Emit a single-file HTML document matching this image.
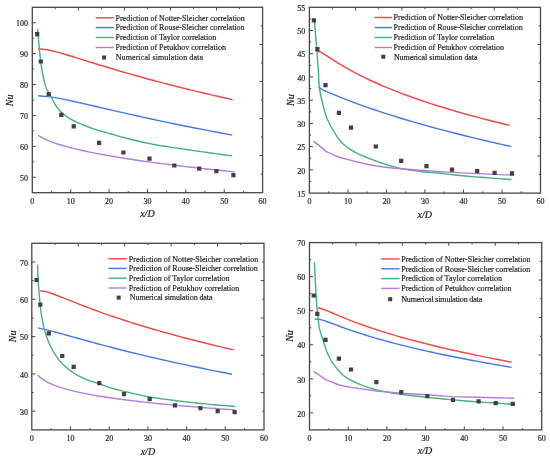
<!DOCTYPE html>
<html><head><meta charset="utf-8"><style>
html,body{margin:0;padding:0;background:#fff;width:550px;height:461px;overflow:hidden;}
svg{display:block;font-family:"Liberation Serif",serif;filter:blur(0.35px);}
</style></head><body>
<svg width="550" height="461" viewBox="0 0 550 461">
<rect x="0" y="0" width="550" height="461" fill="#fff"/>
<g><path d="M51.49,192.7v-1.8M70.68,192.7v-3.6M89.88,192.7v-1.8M109.07,192.7v-3.6M128.26,192.7v-1.8M147.45,192.7v-3.6M166.64,192.7v-1.8M185.83,192.7v-3.6M205.03,192.7v-1.8M224.22,192.7v-3.6M243.41,192.7v-1.8M32.3,177.25h3.6M32.3,161.8h1.8M32.3,146.35h3.6M32.3,130.9h1.8M32.3,115.45h3.6M32.3,100h1.8M32.3,84.55h3.6M32.3,69.1h1.8M32.3,53.65h3.6M32.3,38.2h1.8M32.3,22.75h3.6M55.33,7.3v1.8M78.36,7.3v3.2M101.39,7.3v1.8M124.42,7.3v3.2M147.45,7.3v1.8M170.48,7.3v3.2M193.51,7.3v1.8M216.54,7.3v3.2M239.57,7.3v1.8M262.6,25.84h-1.8M262.6,44.38h-3.2M262.6,62.92h-1.8M262.6,81.46h-3.2M262.6,100h-1.8M262.6,118.54h-3.2M262.6,137.08h-1.8M262.6,155.62h-3.2M262.6,174.16h-1.8" stroke="#474747" stroke-width="1" fill="none"/><rect x="32.3" y="7.3" width="230.3" height="185.4" fill="none" stroke="#474747" stroke-width="1.3"/><g font-family="Liberation Serif, serif" font-size="8" fill="#1e1e1e" stroke="#1e1e1e" stroke-width="0.18"><text x="32.3" y="204.2" text-anchor="middle">0</text><text x="70.68" y="204.2" text-anchor="middle">10</text><text x="109.07" y="204.2" text-anchor="middle">20</text><text x="147.45" y="204.2" text-anchor="middle">30</text><text x="185.83" y="204.2" text-anchor="middle">40</text><text x="224.22" y="204.2" text-anchor="middle">50</text><text x="262.6" y="204.2" text-anchor="middle">60</text><text x="28.1" y="180.95" text-anchor="end">50</text><text x="28.1" y="150.05" text-anchor="end">60</text><text x="28.1" y="119.15" text-anchor="end">70</text><text x="28.1" y="88.25" text-anchor="end">80</text><text x="28.1" y="57.35" text-anchor="end">90</text><text x="28.1" y="26.45" text-anchor="end">100</text></g><text transform="translate(12.7,100.3) rotate(-90)" text-anchor="middle" font-family="Liberation Serif, serif" font-style="italic" font-size="10" fill="#1e1e1e" stroke="#1e1e1e" stroke-width="0.18">Nu</text><text x="147.4" y="217" text-anchor="middle" font-family="Liberation Serif, serif" font-style="italic" font-size="10" fill="#1e1e1e" stroke="#1e1e1e" stroke-width="0.18">x/D</text><path d="M38.3,48.99 L43.28,49.24 L48.26,49.97 L53.24,51.06 L58.22,52.36 L63.2,53.78 L68.18,55.27 L73.16,56.8 L78.14,58.35 L83.12,59.91 L88.09,61.46 L93.07,63.01 L98.05,64.54 L103.03,66.06 L108.01,67.56 L112.99,69.05 L117.97,70.51 L122.95,71.96 L127.93,73.39 L132.91,74.8 L137.89,76.2 L142.87,77.57 L147.85,78.93 L152.83,80.27 L157.81,81.6 L162.79,82.9 L167.77,84.19 L172.75,85.47 L177.73,86.73 L182.71,87.97 L187.68,89.2 L192.66,90.42 L197.64,91.62 L202.62,92.81 L207.6,93.98 L212.58,95.14 L217.56,96.29 L222.54,97.43 L227.52,98.56 L232.5,99.67" stroke="#f04a4a" stroke-width="1.45" fill="none" stroke-linejoin="round" stroke-linecap="butt"/><path d="M38.2,95.78 L43.17,96.25 L48.15,96.67 L53.12,97.33 L58.1,98.15 L63.07,99.1 L68.05,100.13 L73.02,101.22 L77.99,102.34 L82.97,103.48 L87.94,104.63 L92.92,105.79 L97.89,106.95 L102.87,108.11 L107.84,109.27 L112.82,110.42 L117.79,111.56 L122.76,112.69 L127.74,113.82 L132.71,114.93 L137.69,116.03 L142.66,117.13 L147.64,118.21 L152.61,119.28 L157.58,120.34 L162.56,121.39 L167.53,122.43 L172.51,123.46 L177.48,124.48 L182.46,125.49 L187.43,126.49 L192.41,127.48 L197.38,128.46 L202.35,129.43 L207.33,130.39 L212.3,131.34 L217.28,132.29 L222.25,133.22 L227.23,134.15 L232.2,135.07" stroke="#4379e0" stroke-width="1.4" fill="none" stroke-linejoin="round" stroke-linecap="butt"/><path d="M37.7,28.7 L37.82,30.44 L37.94,32.2 L38.06,33.95 L38.18,35.71 L38.3,37.46 L38.42,39.19 L38.56,40.91 L38.7,42.6 L38.85,44.17 L39,45.73 L39.16,47.28 L39.33,48.81 L39.5,50.33 L39.67,51.84 L39.84,53.33 L40,54.8 L40.14,56.13 L40.28,57.44 L40.42,58.73 L40.55,60 L40.69,61.28 L40.84,62.56 L41.01,63.87 L41.2,65.2 L41.43,66.69 L41.67,68.22 L41.93,69.77 L42.2,71.33 L42.48,72.88 L42.78,74.42 L43.09,75.93 L43.4,77.4 L43.69,78.71 L43.98,80.01 L44.27,81.31 L44.57,82.58 L44.89,83.82 L45.23,85.03 L45.6,86.19 L46,87.3 L46.37,88.18 L46.77,89.03 L47.19,89.86 L47.62,90.65 L48.06,91.42 L48.49,92.17 L48.91,92.89 L49.3,93.6 L49.59,94.14 L49.88,94.66 L50.16,95.16 L50.43,95.65 L50.7,96.13 L50.96,96.61 L51.23,97.1 L51.5,97.6 L51.78,98.12 L52.05,98.64 L52.32,99.17 L52.59,99.7 L52.87,100.23 L53.14,100.76 L53.42,101.28 L53.7,101.8 L53.97,102.3 L54.24,102.8 L54.51,103.3 L54.78,103.79 L55.05,104.28 L55.35,104.78 L55.66,105.28 L56,105.8 L56.44,106.44 L56.91,107.1 L57.4,107.77 L57.91,108.44 L58.45,109.12 L59.01,109.79 L59.59,110.45 L60.2,111.1 L60.91,111.82 L61.66,112.53 L62.43,113.24 L63.24,113.94 L64.07,114.63 L64.93,115.3 L65.8,115.96 L66.7,116.6 L67.7,117.27 L68.75,117.93 L69.83,118.57 L70.93,119.19 L72.05,119.79 L73.17,120.38 L74.29,120.95 L75.4,121.5 L76.46,122.01 L77.51,122.5 L78.56,122.96 L79.62,123.42 L80.68,123.86 L81.76,124.3 L82.87,124.75 L84,125.2 L85.3,125.72 L86.64,126.25 L88,126.77 L89.39,127.3 L90.79,127.82 L92.19,128.33 L93.6,128.82 L95,129.3 L96.39,129.76 L97.75,130.19 L99.11,130.6 L100.48,131 L101.87,131.41 L103.32,131.82 L104.82,132.25 L106.4,132.7 L108.61,133.33 L110.94,134 L113.37,134.69 L115.89,135.39 L118.46,136.1 L121.09,136.82 L123.74,137.52 L126.4,138.2 L129.43,138.96 L132.54,139.73 L135.7,140.5 L138.91,141.27 L142.16,142.01 L145.43,142.74 L148.71,143.44 L152,144.1 L155.48,144.75 L159.08,145.38 L162.74,145.98 L166.4,146.56 L170.01,147.11 L173.51,147.63 L176.86,148.13 L180,148.6 L182.2,148.93 L184.28,149.24 L186.26,149.52 L188.19,149.8 L190.09,150.07 L192.01,150.34 L193.96,150.61 L196,150.9 L198.3,151.23 L200.66,151.57 L203.05,151.91 L205.46,152.26 L207.87,152.6 L210.28,152.94 L212.66,153.27 L215,153.6 L217.19,153.9 L219.36,154.19 L221.51,154.48 L223.65,154.77 L225.79,155.05 L227.92,155.33 L230.06,155.61 L232.2,155.9" stroke="#45b07c" stroke-width="1.4" fill="none" stroke-linejoin="round" stroke-linecap="butt"/><path d="M38.2,135.41 L43.24,138.46 L48.27,140.71 L53.31,142.6 L58.34,144.27 L63.38,145.77 L68.42,147.14 L73.45,148.42 L78.49,149.62 L83.52,150.76 L88.56,151.83 L93.59,152.85 L98.63,153.83 L103.67,154.76 L108.7,155.67 L113.74,156.53 L118.77,157.37 L123.81,158.19 L128.85,158.97 L133.88,159.74 L138.92,160.48 L143.95,161.2 L148.99,161.91 L154.03,162.59 L159.06,163.26 L164.1,163.92 L169.13,164.56 L174.17,165.18 L179.21,165.8 L184.24,166.4 L189.28,166.99 L194.31,167.56 L199.35,168.13 L204.38,168.69 L209.42,169.24 L214.46,169.77 L219.49,170.3 L224.53,170.82 L229.56,171.34 L234.6,171.84" stroke="#b37ce0" stroke-width="1.4" fill="none" stroke-linejoin="round" stroke-linecap="butt"/><path d="M35.1,32.1h4.2v4.2h-4.2zM38.7,59.4h4.2v4.2h-4.2zM46.6,91.9h4.2v4.2h-4.2zM59.2,112.7h4.2v4.2h-4.2zM71.6,124.3h4.2v4.2h-4.2zM97,140.8h4.2v4.2h-4.2zM121.3,150.4h4.2v4.2h-4.2zM147.4,156.6h4.2v4.2h-4.2zM172.2,163.4h4.2v4.2h-4.2zM197.1,166.5h4.2v4.2h-4.2zM214.3,169.1h4.2v4.2h-4.2zM231.3,173.1h4.2v4.2h-4.2z" fill="#404040"/><path d="M95.7,17.8H113.9" stroke="#f04a4a" stroke-width="1.45"/><path d="M95.7,27.6H113.9" stroke="#4379e0" stroke-width="1.4"/><path d="M95.7,37.5H113.9" stroke="#45b07c" stroke-width="1.4"/><path d="M95.7,47.5H113.9" stroke="#b37ce0" stroke-width="1.4"/><rect x="102.1" y="55.5" width="4" height="4" fill="#404040"/><g font-family="Liberation Serif, serif" font-size="8" fill="#1e1e1e" stroke="#1e1e1e" stroke-width="0.18"><text x="115.5" y="20.6">Prediction of Notter-Sleicher correlation</text><text x="115.5" y="30.4">Prediction of Rouse-Sleicher correlation</text><text x="115.5" y="40.3">Prediction of Taylor correlation</text><text x="115.5" y="50.3">Prediction of Petukhov correlation</text><text x="115.7" y="60.3" letter-spacing="0.1">Numerical simulation data</text></g></g>
<g><path d="M328.66,193.1v-1.8M347.92,193.1v-3.6M367.17,193.1v-1.8M386.43,193.1v-3.6M405.69,193.1v-1.8M424.95,193.1v-3.6M444.21,193.1v-1.8M463.47,193.1v-3.6M482.73,193.1v-1.8M501.98,193.1v-3.6M521.24,193.1v-1.8M309.4,181.49h1.8M309.4,169.88h3.6M309.4,158.26h1.8M309.4,146.65h3.6M309.4,135.04h1.8M309.4,123.42h3.6M309.4,111.81h1.8M309.4,100.2h3.6M309.4,88.59h1.8M309.4,76.98h3.6M309.4,65.36h1.8M309.4,53.75h3.6M309.4,42.14h1.8M309.4,30.53h3.6M309.4,18.91h1.8M332.51,7.3v1.8M355.62,7.3v3.2M378.73,7.3v1.8M401.84,7.3v3.2M424.95,7.3v1.8M448.06,7.3v3.2M471.17,7.3v1.8M494.28,7.3v3.2M517.39,7.3v1.8M540.5,25.88h-1.8M540.5,44.46h-3.2M540.5,63.04h-1.8M540.5,81.62h-3.2M540.5,100.2h-1.8M540.5,118.78h-3.2M540.5,137.36h-1.8M540.5,155.94h-3.2M540.5,174.52h-1.8" stroke="#474747" stroke-width="1" fill="none"/><rect x="309.4" y="7.3" width="231.1" height="185.8" fill="none" stroke="#474747" stroke-width="1.3"/><g font-family="Liberation Serif, serif" font-size="8" fill="#1e1e1e" stroke="#1e1e1e" stroke-width="0.18"><text x="309.4" y="204.2" text-anchor="middle">0</text><text x="347.92" y="204.2" text-anchor="middle">10</text><text x="386.43" y="204.2" text-anchor="middle">20</text><text x="424.95" y="204.2" text-anchor="middle">30</text><text x="463.47" y="204.2" text-anchor="middle">40</text><text x="501.98" y="204.2" text-anchor="middle">50</text><text x="540.5" y="204.2" text-anchor="middle">60</text><text x="305.2" y="196.8" text-anchor="end">15</text><text x="305.2" y="173.57" text-anchor="end">20</text><text x="305.2" y="150.35" text-anchor="end">25</text><text x="305.2" y="127.12" text-anchor="end">30</text><text x="305.2" y="103.9" text-anchor="end">35</text><text x="305.2" y="80.68" text-anchor="end">40</text><text x="305.2" y="57.45" text-anchor="end">45</text><text x="305.2" y="34.23" text-anchor="end">50</text><text x="305.2" y="11" text-anchor="end">55</text></g><text transform="translate(293.6,100.2) rotate(-90)" text-anchor="middle" font-family="Liberation Serif, serif" font-style="italic" font-size="10" fill="#1e1e1e" stroke="#1e1e1e" stroke-width="0.18">Nu</text><text x="424.7" y="217.5" text-anchor="middle" font-family="Liberation Serif, serif" font-style="italic" font-size="10" fill="#1e1e1e" stroke="#1e1e1e" stroke-width="0.18">x/D</text><path d="M315.4,50.48 L320.38,51.93 L325.36,54.89 L330.35,58.11 L335.33,61.29 L340.31,64.37 L345.29,67.31 L350.27,70.13 L355.26,72.82 L360.24,75.4 L365.22,77.87 L370.2,80.24 L375.18,82.53 L380.17,84.73 L385.15,86.85 L390.13,88.91 L395.11,90.9 L400.09,92.83 L405.08,94.7 L410.06,96.52 L415.04,98.29 L420.02,100.01 L425.01,101.7 L429.99,103.34 L434.97,104.94 L439.95,106.5 L444.93,108.03 L449.92,109.53 L454.9,111 L459.88,112.43 L464.86,113.84 L469.84,115.22 L474.83,116.57 L479.81,117.9 L484.79,119.21 L489.77,120.49 L494.75,121.75 L499.74,122.99 L504.72,124.21 L509.7,125.42" stroke="#f04a4a" stroke-width="1.45" fill="none" stroke-linejoin="round" stroke-linecap="butt"/><path d="M318.5,87.41 L323.45,90.06 L328.39,92.32 L333.34,94.43 L338.28,96.47 L343.23,98.44 L348.18,100.35 L353.12,102.22 L358.07,104.04 L363.02,105.82 L367.96,107.55 L372.91,109.25 L377.85,110.91 L382.8,112.54 L387.75,114.13 L392.69,115.7 L397.64,117.23 L402.58,118.73 L407.53,120.21 L412.48,121.66 L417.42,123.09 L422.37,124.49 L427.32,125.87 L432.26,127.23 L437.21,128.57 L442.15,129.89 L447.1,131.19 L452.05,132.46 L456.99,133.73 L461.94,134.97 L466.88,136.2 L471.83,137.41 L476.78,138.61 L481.72,139.79 L486.67,140.95 L491.62,142.1 L496.56,143.24 L501.51,144.37 L506.45,145.48 L511.4,146.58" stroke="#4379e0" stroke-width="1.4" fill="none" stroke-linejoin="round" stroke-linecap="butt"/><path d="M314.4,20.2 L314.58,22.4 L314.76,24.64 L314.94,26.89 L315.12,29.13 L315.3,31.35 L315.47,33.51 L315.64,35.6 L315.8,37.6 L315.92,39.11 L316.04,40.53 L316.14,41.9 L316.25,43.23 L316.36,44.57 L316.47,45.94 L316.58,47.37 L316.7,48.9 L316.86,50.97 L317.04,53.15 L317.21,55.41 L317.4,57.74 L317.58,60.1 L317.76,62.48 L317.93,64.85 L318.1,67.2 L318.25,69.66 L318.39,72.21 L318.52,74.81 L318.65,77.4 L318.78,79.93 L318.93,82.36 L319.1,84.63 L319.3,86.7 L319.45,87.96 L319.6,89.15 L319.77,90.27 L319.94,91.34 L320.12,92.37 L320.3,93.38 L320.5,94.39 L320.7,95.4 L320.89,96.3 L321.09,97.18 L321.3,98.03 L321.52,98.88 L321.74,99.72 L321.96,100.57 L322.18,101.43 L322.4,102.3 L322.63,103.25 L322.86,104.23 L323.1,105.22 L323.34,106.21 L323.57,107.2 L323.81,108.16 L324.06,109.1 L324.3,110 L324.51,110.72 L324.71,111.42 L324.91,112.1 L325.12,112.77 L325.33,113.42 L325.55,114.08 L325.77,114.73 L326,115.4 L326.24,116.08 L326.49,116.76 L326.74,117.43 L326.99,118.11 L327.26,118.78 L327.53,119.46 L327.81,120.13 L328.1,120.8 L328.41,121.49 L328.72,122.18 L329.05,122.87 L329.38,123.56 L329.72,124.25 L330.07,124.94 L330.43,125.62 L330.8,126.3 L331.19,126.98 L331.59,127.66 L332,128.34 L332.41,129.01 L332.84,129.68 L333.26,130.35 L333.68,131.03 L334.1,131.7 L334.51,132.38 L334.91,133.06 L335.3,133.73 L335.7,134.41 L336.1,135.09 L336.52,135.77 L336.95,136.44 L337.4,137.1 L337.89,137.79 L338.38,138.48 L338.88,139.16 L339.4,139.84 L339.94,140.52 L340.5,141.19 L341.09,141.85 L341.7,142.5 L342.42,143.22 L343.16,143.93 L343.94,144.63 L344.75,145.33 L345.58,146.01 L346.43,146.69 L347.31,147.35 L348.2,148 L349.2,148.7 L350.23,149.38 L351.28,150.05 L352.36,150.71 L353.47,151.35 L354.6,151.98 L355.74,152.6 L356.9,153.2 L358.18,153.83 L359.51,154.44 L360.87,155.03 L362.25,155.61 L363.64,156.17 L365.02,156.73 L366.38,157.27 L367.7,157.8 L368.89,158.28 L370.05,158.75 L371.2,159.21 L372.35,159.66 L373.49,160.1 L374.64,160.53 L375.81,160.97 L377,161.4 L378.28,161.86 L379.57,162.31 L380.88,162.76 L382.19,163.2 L383.52,163.64 L384.85,164.07 L386.17,164.49 L387.5,164.9 L388.8,165.3 L390.07,165.7 L391.33,166.08 L392.59,166.46 L393.89,166.83 L395.24,167.19 L396.67,167.55 L398.2,167.9 L400.55,168.39 L403.12,168.87 L405.84,169.34 L408.66,169.8 L411.54,170.24 L414.43,170.65 L417.26,171.04 L420,171.4 L422.54,171.7 L425.05,171.97 L427.56,172.2 L430.05,172.42 L432.54,172.63 L435.02,172.84 L437.51,173.06 L440,173.3 L442.5,173.56 L444.99,173.84 L447.48,174.12 L449.97,174.41 L452.46,174.69 L454.96,174.97 L457.48,175.24 L460,175.5 L462.57,175.75 L465.12,175.98 L467.66,176.21 L470.22,176.43 L472.82,176.64 L475.46,176.86 L478.19,177.08 L481,177.3 L484.53,177.57 L488.2,177.85 L491.99,178.12 L495.85,178.4 L499.75,178.67 L503.67,178.95 L507.56,179.22 L511.4,179.5" stroke="#45b07c" stroke-width="1.4" fill="none" stroke-linejoin="round" stroke-linecap="butt"/><path d="M313.6,141.1 L326.4,151.6 L339.1,157.3 L351,160.4 L364.5,163.8 L376.4,166 L391.8,168 L400.7,168.8 L426.9,170.7 L451.9,172.4 L477,173.6 L494.3,174.4 L514,175.2" stroke="#b37ce0" stroke-width="1.4" fill="none" stroke-linejoin="round" stroke-linecap="butt"/><path d="M311.8,18.3h4.2v4.2h-4.2zM315.3,47h4.2v4.2h-4.2zM323.4,83.1h4.2v4.2h-4.2zM336.8,110.8h4.2v4.2h-4.2zM348.9,125.5h4.2v4.2h-4.2zM373.7,144.4h4.2v4.2h-4.2zM399.1,158.8h4.2v4.2h-4.2zM424.4,164h4.2v4.2h-4.2zM449.9,167.5h4.2v4.2h-4.2zM475.1,169.1h4.2v4.2h-4.2zM492.5,170.8h4.2v4.2h-4.2zM509.9,171.2h4.2v4.2h-4.2z" fill="#404040"/><path d="M374.5,17.5H392" stroke="#f04a4a" stroke-width="1.45"/><path d="M374.5,27.6H392" stroke="#4379e0" stroke-width="1.4"/><path d="M374.5,37.5H392" stroke="#45b07c" stroke-width="1.4"/><path d="M374.5,47.5H392" stroke="#b37ce0" stroke-width="1.4"/><rect x="381.3" y="54.7" width="4" height="4" fill="#404040"/><g font-family="Liberation Serif, serif" font-size="8" fill="#1e1e1e" stroke="#1e1e1e" stroke-width="0.18"><text x="393.6" y="20.3">Prediction of Notter-Sleicher correlation</text><text x="393.6" y="30.4">Prediction of Rouse-Sleicher correlation</text><text x="393.6" y="40.3">Prediction of Taylor correlation</text><text x="393.6" y="50.3">Prediction of Petukhov correlation</text><text x="393.9" y="59.5" letter-spacing="-0.05">Numerical simulation data</text></g></g>
<g><path d="M51.15,429.9v-1.8M70.5,429.9v-3.6M89.85,429.9v-1.8M109.2,429.9v-3.6M128.55,429.9v-1.8M147.9,429.9v-3.6M167.25,429.9v-1.8M186.6,429.9v-3.6M205.95,429.9v-1.8M225.3,429.9v-3.6M244.65,429.9v-1.8M31.8,411.24h3.6M31.8,392.58h1.8M31.8,373.92h3.6M31.8,355.26h1.8M31.8,336.6h3.6M31.8,317.94h1.8M31.8,299.28h3.6M31.8,280.62h1.8M31.8,261.96h3.6M55.02,243.3v1.8M78.24,243.3v3.2M101.46,243.3v1.8M124.68,243.3v3.2M147.9,243.3v1.8M171.12,243.3v3.2M194.34,243.3v1.8M217.56,243.3v3.2M240.78,243.3v1.8M264,261.96h-1.8M264,280.62h-3.2M264,299.28h-1.8M264,317.94h-3.2M264,336.6h-1.8M264,355.26h-3.2M264,373.92h-1.8M264,392.58h-3.2M264,411.24h-1.8" stroke="#474747" stroke-width="1" fill="none"/><rect x="31.8" y="243.3" width="232.2" height="186.6" fill="none" stroke="#474747" stroke-width="1.3"/><g font-family="Liberation Serif, serif" font-size="8" fill="#1e1e1e" stroke="#1e1e1e" stroke-width="0.18"><text x="31.8" y="441.3" text-anchor="middle">0</text><text x="70.5" y="441.3" text-anchor="middle">10</text><text x="109.2" y="441.3" text-anchor="middle">20</text><text x="147.9" y="441.3" text-anchor="middle">30</text><text x="186.6" y="441.3" text-anchor="middle">40</text><text x="225.3" y="441.3" text-anchor="middle">50</text><text x="264" y="441.3" text-anchor="middle">60</text><text x="27.9" y="414.94" text-anchor="end">30</text><text x="27.9" y="377.62" text-anchor="end">40</text><text x="27.9" y="340.3" text-anchor="end">50</text><text x="27.9" y="302.98" text-anchor="end">60</text><text x="27.9" y="265.66" text-anchor="end">70</text></g><text transform="translate(15.9,336.4) rotate(-90)" text-anchor="middle" font-family="Liberation Serif, serif" font-style="italic" font-size="10" fill="#1e1e1e" stroke="#1e1e1e" stroke-width="0.18">Nu</text><text x="147.9" y="454.6" text-anchor="middle" font-family="Liberation Serif, serif" font-style="italic" font-size="10" fill="#1e1e1e" stroke="#1e1e1e" stroke-width="0.18">x/D</text><path d="M39.8,290.86 L44.77,291.34 L49.74,292.75 L54.72,294.53 L59.69,296.46 L64.66,298.44 L69.63,300.43 L74.6,302.41 L79.57,304.36 L84.55,306.28 L89.52,308.17 L94.49,310.01 L99.46,311.82 L104.43,313.58 L109.41,315.32 L114.38,317.01 L119.35,318.67 L124.32,320.3 L129.29,321.9 L134.26,323.46 L139.24,325 L144.21,326.51 L149.18,327.99 L154.15,329.44 L159.12,330.88 L164.09,332.28 L169.07,333.67 L174.04,335.03 L179.01,336.37 L183.98,337.69 L188.95,338.99 L193.93,340.27 L198.9,341.53 L203.87,342.77 L208.84,344 L213.81,345.21 L218.78,346.41 L223.76,347.59 L228.73,348.75 L233.7,349.9" stroke="#f04a4a" stroke-width="1.45" fill="none" stroke-linejoin="round" stroke-linecap="butt"/><path d="M37.9,327.92 L42.88,329.08 L47.85,330.18 L52.83,331.4 L57.81,332.71 L62.78,334.07 L67.76,335.46 L72.74,336.86 L77.72,338.26 L82.69,339.65 L87.67,341.04 L92.65,342.41 L97.62,343.76 L102.6,345.09 L107.58,346.41 L112.55,347.71 L117.53,348.99 L122.51,350.25 L127.48,351.5 L132.46,352.73 L137.44,353.94 L142.42,355.13 L147.39,356.31 L152.37,357.47 L157.35,358.62 L162.32,359.75 L167.3,360.87 L172.28,361.97 L177.25,363.06 L182.23,364.13 L187.21,365.19 L192.18,366.24 L197.16,367.28 L202.14,368.31 L207.12,369.32 L212.09,370.32 L217.07,371.32 L222.05,372.3 L227.02,373.27 L232,374.23" stroke="#4379e0" stroke-width="1.4" fill="none" stroke-linejoin="round" stroke-linecap="butt"/><path d="M37.5,264.6 L37.58,266.66 L37.66,268.72 L37.73,270.77 L37.81,272.82 L37.89,274.88 L37.98,276.95 L38.08,279.02 L38.2,281.1 L38.34,283.27 L38.5,285.49 L38.67,287.73 L38.85,289.97 L39.04,292.18 L39.23,294.36 L39.42,296.47 L39.6,298.5 L39.74,300.14 L39.88,301.74 L40.02,303.31 L40.16,304.84 L40.3,306.35 L40.45,307.82 L40.62,309.27 L40.8,310.7 L40.98,311.94 L41.17,313.16 L41.37,314.36 L41.58,315.54 L41.79,316.69 L42,317.82 L42.21,318.93 L42.4,320 L42.55,320.87 L42.7,321.72 L42.84,322.55 L42.98,323.36 L43.12,324.16 L43.27,324.94 L43.43,325.72 L43.6,326.5 L43.77,327.21 L43.93,327.89 L44.11,328.57 L44.29,329.24 L44.48,329.91 L44.67,330.59 L44.88,331.28 L45.1,332 L45.38,332.88 L45.68,333.8 L45.99,334.75 L46.32,335.71 L46.65,336.66 L46.98,337.58 L47.3,338.47 L47.6,339.3 L47.82,339.91 L48.03,340.48 L48.23,341.04 L48.43,341.58 L48.64,342.11 L48.85,342.64 L49.07,343.17 L49.3,343.7 L49.55,344.24 L49.82,344.79 L50.09,345.32 L50.37,345.86 L50.65,346.39 L50.94,346.93 L51.22,347.46 L51.5,348 L51.77,348.54 L52.03,349.08 L52.3,349.62 L52.56,350.16 L52.83,350.7 L53.1,351.23 L53.39,351.77 L53.7,352.3 L54.04,352.86 L54.4,353.41 L54.77,353.96 L55.15,354.52 L55.54,355.07 L55.93,355.61 L56.32,356.16 L56.7,356.7 L57.07,357.23 L57.42,357.76 L57.78,358.29 L58.14,358.82 L58.5,359.34 L58.88,359.86 L59.28,360.38 L59.7,360.9 L60.19,361.47 L60.71,362.04 L61.24,362.61 L61.79,363.18 L62.36,363.74 L62.93,364.3 L63.51,364.85 L64.1,365.4 L64.72,365.96 L65.35,366.51 L66,367.06 L66.65,367.6 L67.31,368.13 L67.98,368.66 L68.64,369.18 L69.3,369.7 L69.93,370.19 L70.54,370.67 L71.15,371.15 L71.76,371.61 L72.39,372.08 L73.05,372.55 L73.75,373.02 L74.5,373.5 L75.6,374.17 L76.78,374.85 L78.03,375.55 L79.33,376.24 L80.68,376.94 L82.06,377.61 L83.48,378.27 L84.9,378.9 L86.56,379.58 L88.3,380.22 L90.09,380.84 L91.92,381.44 L93.76,382.03 L95.6,382.61 L97.42,383.2 L99.2,383.8 L100.86,384.39 L102.49,384.98 L104.1,385.57 L105.71,386.16 L107.33,386.74 L108.97,387.31 L110.66,387.87 L112.4,388.4 L114.44,388.98 L116.54,389.53 L118.7,390.07 L120.89,390.58 L123.09,391.09 L125.31,391.6 L127.52,392.1 L129.7,392.6 L131.85,393.11 L133.98,393.62 L136.11,394.12 L138.24,394.62 L140.39,395.11 L142.57,395.59 L144.8,396.06 L147.1,396.5 L149.8,396.98 L152.56,397.44 L155.38,397.88 L158.25,398.3 L161.16,398.71 L164.09,399.11 L167.04,399.51 L170,399.9 L173.13,400.31 L176.26,400.72 L179.39,401.11 L182.56,401.5 L185.78,401.88 L189.09,402.25 L192.48,402.63 L196,403 L200.5,403.45 L205.21,403.9 L210.08,404.34 L215.05,404.77 L220.09,405.2 L225.14,405.63 L230.16,406.06 L235.1,406.5" stroke="#45b07c" stroke-width="1.4" fill="none" stroke-linejoin="round" stroke-linecap="butt"/><path d="M37.5,374.94 L42.57,379.37 L47.63,382.35 L52.7,384.66 L57.77,386.57 L62.83,388.2 L67.9,389.64 L72.97,390.92 L78.03,392.09 L83.1,393.17 L88.17,394.16 L93.23,395.09 L98.3,395.96 L103.37,396.78 L108.43,397.55 L113.5,398.29 L118.57,398.99 L123.63,399.66 L128.7,400.3 L133.77,400.92 L138.83,401.51 L143.9,402.08 L148.97,402.63 L154.03,403.16 L159.1,403.68 L164.17,404.18 L169.23,404.66 L174.3,405.13 L179.37,405.59 L184.43,406.04 L189.5,406.47 L194.57,406.89 L199.63,407.31 L204.7,407.71 L209.77,408.11 L214.83,408.49 L219.9,408.87 L224.97,409.24 L230.03,409.6 L235.1,409.95" stroke="#b37ce0" stroke-width="1.4" fill="none" stroke-linejoin="round" stroke-linecap="butt"/><path d="M34.4,277.9h4.2v4.2h-4.2zM38.2,302.6h4.2v4.2h-4.2zM46.7,331.3h4.2v4.2h-4.2zM60.1,353.9h4.2v4.2h-4.2zM71.6,364.7h4.2v4.2h-4.2zM97.2,381.1h4.2v4.2h-4.2zM121.9,392.1h4.2v4.2h-4.2zM147.6,397h4.2v4.2h-4.2zM172.8,403.2h4.2v4.2h-4.2zM198.3,406.1h4.2v4.2h-4.2zM215.6,409h4.2v4.2h-4.2zM232.5,410.1h4.2v4.2h-4.2z" fill="#404040"/><path d="M108.5,258.7H126.6" stroke="#f04a4a" stroke-width="1.45"/><path d="M108.5,268.4H126.6" stroke="#4379e0" stroke-width="1.4"/><path d="M108.5,278.2H126.6" stroke="#45b07c" stroke-width="1.4"/><path d="M108.5,288H126.6" stroke="#b37ce0" stroke-width="1.4"/><rect x="116.7" y="295.6" width="4" height="4" fill="#404040"/><g font-family="Liberation Serif, serif" font-size="8" fill="#1e1e1e" stroke="#1e1e1e" stroke-width="0.18"><text x="128.8" y="261.5">Prediction of Notter-Sleicher correlation</text><text x="128.8" y="271.2">Prediction of Rouse-Sleicher correlation</text><text x="128.8" y="281">Prediction of Taylor correlation</text><text x="128.8" y="290.8">Prediction of Petukhov correlation</text><text x="129.8" y="300.4" letter-spacing="-0.09">Numerical simulation data</text></g></g>
<g><path d="M328.85,429.9v-1.8M348.2,429.9v-3.6M367.55,429.9v-1.8M386.9,429.9v-3.6M406.25,429.9v-1.8M425.6,429.9v-3.6M444.95,429.9v-1.8M464.3,429.9v-3.6M483.65,429.9v-1.8M503,429.9v-3.6M522.35,429.9v-1.8M309.5,412.87h3.6M309.5,395.85h1.8M309.5,378.82h3.6M309.5,361.79h1.8M309.5,344.76h3.6M309.5,327.74h1.8M309.5,310.71h3.6M309.5,293.68h1.8M309.5,276.65h3.6M309.5,259.63h1.8M332.72,242.6v1.8M355.94,242.6v3.2M379.16,242.6v1.8M402.38,242.6v3.2M425.6,242.6v1.8M448.82,242.6v3.2M472.04,242.6v1.8M495.26,242.6v3.2M518.48,242.6v1.8M541.7,261.33h-1.8M541.7,280.06h-3.2M541.7,298.79h-1.8M541.7,317.52h-3.2M541.7,336.25h-1.8M541.7,354.98h-3.2M541.7,373.71h-1.8M541.7,392.44h-3.2M541.7,411.17h-1.8" stroke="#474747" stroke-width="1" fill="none"/><rect x="309.5" y="242.6" width="232.2" height="187.3" fill="none" stroke="#474747" stroke-width="1.3"/><g font-family="Liberation Serif, serif" font-size="8" fill="#1e1e1e" stroke="#1e1e1e" stroke-width="0.18"><text x="309.5" y="441.3" text-anchor="middle">0</text><text x="348.2" y="441.3" text-anchor="middle">10</text><text x="386.9" y="441.3" text-anchor="middle">20</text><text x="425.6" y="441.3" text-anchor="middle">30</text><text x="464.3" y="441.3" text-anchor="middle">40</text><text x="503" y="441.3" text-anchor="middle">50</text><text x="541.7" y="441.3" text-anchor="middle">60</text><text x="305.3" y="416.57" text-anchor="end">20</text><text x="305.3" y="382.52" text-anchor="end">30</text><text x="305.3" y="348.46" text-anchor="end">40</text><text x="305.3" y="314.41" text-anchor="end">50</text><text x="305.3" y="280.35" text-anchor="end">60</text><text x="305.3" y="246.3" text-anchor="end">70</text></g><text transform="translate(293.3,336) rotate(-90)" text-anchor="middle" font-family="Liberation Serif, serif" font-style="italic" font-size="10" fill="#1e1e1e" stroke="#1e1e1e" stroke-width="0.18">Nu</text><text x="425" y="454.2" text-anchor="middle" font-family="Liberation Serif, serif" font-style="italic" font-size="10" fill="#1e1e1e" stroke="#1e1e1e" stroke-width="0.18">x/D</text><path d="M318,307.74 L322.96,309.21 L327.93,311.18 L332.89,313.28 L337.86,315.37 L342.82,317.42 L347.78,319.41 L352.75,321.33 L357.71,323.19 L362.68,324.98 L367.64,326.72 L372.61,328.4 L377.57,330.03 L382.53,331.61 L387.5,333.14 L392.46,334.63 L397.43,336.08 L402.39,337.5 L407.35,338.87 L412.32,340.22 L417.28,341.53 L422.25,342.81 L427.21,344.07 L432.17,345.3 L437.14,346.5 L442.1,347.68 L447.07,348.84 L452.03,349.97 L456.99,351.08 L461.96,352.17 L466.92,353.25 L471.89,354.3 L476.85,355.34 L481.82,356.36 L486.78,357.36 L491.74,358.35 L496.71,359.33 L501.67,360.29 L506.64,361.23 L511.6,362.16" stroke="#f04a4a" stroke-width="1.45" fill="none" stroke-linejoin="round" stroke-linecap="butt"/><path d="M314.9,319.04 L319.94,319.38 L324.99,320.92 L330.03,322.74 L335.07,324.63 L340.12,326.49 L345.16,328.31 L350.21,330.08 L355.25,331.78 L360.29,333.43 L365.34,335.03 L370.38,336.57 L375.42,338.06 L380.47,339.51 L385.51,340.92 L390.55,342.28 L395.6,343.61 L400.64,344.9 L405.68,346.16 L410.73,347.39 L415.77,348.59 L420.82,349.76 L425.86,350.91 L430.9,352.03 L435.95,353.13 L440.99,354.2 L446.03,355.25 L451.08,356.29 L456.12,357.3 L461.16,358.3 L466.21,359.27 L471.25,360.23 L476.29,361.18 L481.34,362.1 L486.38,363.02 L491.43,363.92 L496.47,364.8 L501.51,365.67 L506.56,366.53 L511.6,367.38" stroke="#4379e0" stroke-width="1.4" fill="none" stroke-linejoin="round" stroke-linecap="butt"/><path d="M314.4,262 L314.51,264.39 L314.62,266.8 L314.73,269.2 L314.84,271.61 L314.95,274 L315.06,276.39 L315.18,278.76 L315.3,281.1 L315.42,283.32 L315.53,285.53 L315.65,287.73 L315.77,289.91 L315.89,292.08 L316.02,294.24 L316.16,296.38 L316.3,298.5 L316.45,300.54 L316.61,302.64 L316.77,304.74 L316.94,306.82 L317.11,308.83 L317.28,310.74 L317.44,312.51 L317.6,314.1 L317.69,314.97 L317.78,315.75 L317.86,316.48 L317.95,317.17 L318.03,317.85 L318.12,318.53 L318.21,319.24 L318.3,320 L318.41,320.95 L318.51,321.95 L318.62,322.98 L318.73,324.02 L318.84,325.06 L318.98,326.08 L319.13,327.07 L319.3,328 L319.46,328.73 L319.64,329.43 L319.83,330.1 L320.03,330.75 L320.24,331.41 L320.45,332.08 L320.67,332.77 L320.9,333.5 L321.19,334.44 L321.49,335.41 L321.8,336.42 L322.13,337.44 L322.46,338.48 L322.8,339.55 L323.15,340.62 L323.5,341.7 L323.89,342.94 L324.28,344.21 L324.68,345.51 L325.08,346.82 L325.51,348.14 L325.97,349.47 L326.46,350.79 L327,352.1 L327.63,353.51 L328.28,354.93 L328.98,356.35 L329.71,357.77 L330.48,359.19 L331.3,360.6 L332.17,362.01 L333.1,363.4 L334.19,364.97 L335.35,366.56 L336.57,368.16 L337.84,369.75 L339.18,371.3 L340.56,372.79 L342.01,374.2 L343.5,375.5 L345.05,376.69 L346.68,377.8 L348.36,378.83 L350.09,379.8 L351.87,380.71 L353.69,381.59 L355.53,382.45 L357.4,383.3 L359.45,384.19 L361.54,385.05 L363.69,385.86 L365.87,386.64 L368.07,387.38 L370.31,388.09 L372.55,388.76 L374.8,389.4 L377.18,390.02 L379.64,390.6 L382.15,391.14 L384.66,391.65 L387.15,392.11 L389.56,392.54 L391.85,392.94 L394,393.3 L395.46,393.53 L396.83,393.73 L398.12,393.91 L399.38,394.07 L400.63,394.21 L401.91,394.36 L403.26,394.52 L404.7,394.7 L406.65,394.94 L408.66,395.2 L410.74,395.46 L412.88,395.72 L415.09,395.99 L417.36,396.26 L419.7,396.53 L422.1,396.8 L425.28,397.15 L428.63,397.5 L432.12,397.87 L435.7,398.23 L439.32,398.59 L442.94,398.94 L446.51,399.28 L450,399.6 L453.26,399.89 L456.46,400.16 L459.62,400.43 L462.78,400.68 L465.97,400.93 L469.21,401.18 L472.55,401.44 L476,401.7 L480.27,402.02 L484.69,402.34 L489.23,402.67 L493.86,402.99 L498.54,403.32 L503.23,403.65 L507.9,403.97 L512.5,404.3" stroke="#45b07c" stroke-width="1.4" fill="none" stroke-linejoin="round" stroke-linecap="butt"/><path d="M313.7,371.3 L326.1,379.9 L339.2,385 L351,387.4 L376.4,391 L400.7,393.3 L426.9,394.8 L451.9,396.6 L477,397.3 L494.3,397.7 L514.2,398.2" stroke="#b37ce0" stroke-width="1.4" fill="none" stroke-linejoin="round" stroke-linecap="butt"/><path d="M311.6,293.4h4.2v4.2h-4.2zM315.2,311.8h4.2v4.2h-4.2zM323.4,337.8h4.2v4.2h-4.2zM336.8,356.5h4.2v4.2h-4.2zM348.9,367.4h4.2v4.2h-4.2zM374.3,380h4.2v4.2h-4.2zM399.15,390h4.2v4.2h-4.2zM425.2,394h4.2v4.2h-4.2zM450.9,397.8h4.2v4.2h-4.2zM476.5,399.2h4.2v4.2h-4.2zM493.6,401h4.2v4.2h-4.2zM510.7,401.8h4.2v4.2h-4.2z" fill="#404040"/><path d="M381.1,259H399.6" stroke="#f04a4a" stroke-width="1.45"/><path d="M381.1,268.8H399.6" stroke="#4379e0" stroke-width="1.4"/><path d="M381.1,278.6H399.6" stroke="#45b07c" stroke-width="1.4"/><path d="M381.1,288.4H399.6" stroke="#b37ce0" stroke-width="1.4"/><rect x="388.2" y="297.2" width="4" height="4" fill="#404040"/><g font-family="Liberation Serif, serif" font-size="8" fill="#1e1e1e" stroke="#1e1e1e" stroke-width="0.18"><text x="401.2" y="261.8">Prediction of Notter-Sleicher correlation</text><text x="401.2" y="271.6">Prediction of Rouse-Sleicher correlation</text><text x="401.2" y="281.4">Prediction of Taylor correlation</text><text x="401.2" y="291.2">Prediction of Petukhov correlation</text><text x="401.2" y="302" letter-spacing="-0.16">Numerical simulation data</text></g></g>
</svg>
</body></html>
